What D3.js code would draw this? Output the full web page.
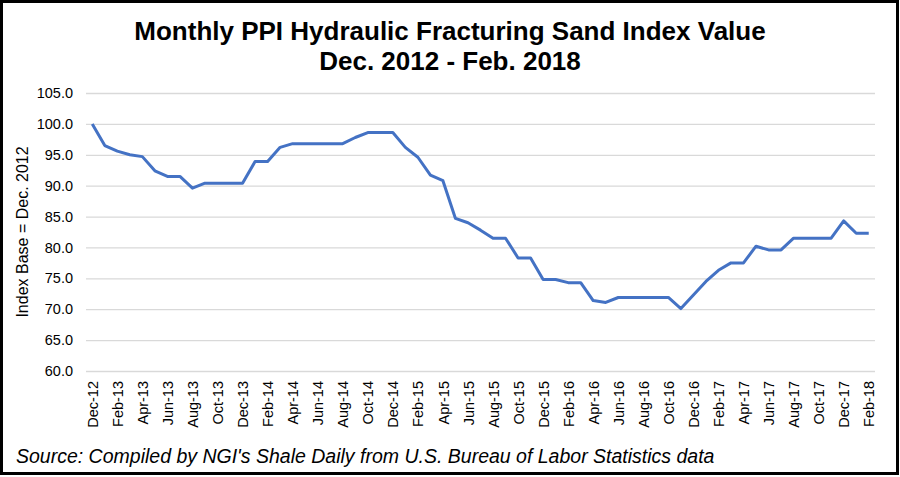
<!DOCTYPE html>
<html><head><meta charset="utf-8">
<script src="https://cdn.jsdelivr.net/npm/d3@7"></script>
<style>html,body{margin:0;padding:0;background:#fff}svg{display:block}</style>
</head><body>
<svg id="c" width="900" height="477"></svg>
<script>
const months = ["Dec-12","Jan-13","Feb-13","Mar-13","Apr-13","May-13","Jun-13","Jul-13","Aug-13","Sep-13","Oct-13","Nov-13",
"Dec-13","Jan-14","Feb-14","Mar-14","Apr-14","May-14","Jun-14","Jul-14","Aug-14","Sep-14","Oct-14","Nov-14",
"Dec-14","Jan-15","Feb-15","Mar-15","Apr-15","May-15","Jun-15","Jul-15","Aug-15","Sep-15","Oct-15","Nov-15",
"Dec-15","Jan-16","Feb-16","Mar-16","Apr-16","May-16","Jun-16","Jul-16","Aug-16","Sep-16","Oct-16","Nov-16",
"Dec-16","Jan-17","Feb-17","Mar-17","Apr-17","May-17","Jun-17","Jul-17","Aug-17","Sep-17","Oct-17","Nov-17",
"Dec-17","Jan-18","Feb-18"];
const values = [100.0,96.5,95.6,95.0,94.7,92.4,91.5,91.5,89.6,90.4,90.4,90.4,
90.4,93.9,93.9,96.2,96.8,96.8,96.8,96.8,96.8,97.8,98.6,98.6,
98.6,96.2,94.6,91.7,90.8,84.7,84.0,82.8,81.5,81.5,78.3,78.3,
74.8,74.8,74.3,74.3,71.4,71.1,71.9,71.9,71.9,71.9,71.9,70.1,
72.3,74.5,76.3,77.5,77.5,80.2,79.6,79.6,81.5,81.5,81.5,81.5,
84.3,82.3,82.3];
const yTicks = [60,65,70,75,80,85,90,95,100,105];
const titleLines = ["Monthly PPI Hydraulic Fracturing Sand Index Value","Dec. 2012 - Feb. 2018"];
const yTitle = "Index Base = Dec. 2012";
const source = "Source: Compiled by NGI's Shale Daily from U.S. Bureau of Labor Statistics data";

const svg = d3.select("#c");
const font = "'Liberation Sans', Arial, sans-serif";
const L = 86, R = 875, T = 93, B = 371;

svg.append("rect").attr("x",1.5).attr("y",1.5).attr("width",896).attr("height",472)
  .attr("fill","#fff").attr("stroke","#000").attr("stroke-width",3);

svg.selectAll("text.title").data(titleLines).join("text").attr("class","title")
  .attr("x",450).attr("y",(d,i)=>40+i*29.5).attr("text-anchor","middle")
  .attr("font-family",font).attr("font-weight","bold").attr("font-size",26).attr("fill","#000")
  .text(d=>d);

const x = d3.scalePoint().domain(months).range([L,R]).padding(0.5);
const y = d3.scaleLinear().domain([60,105]).range([B,T]);

const gy = svg.append("g").attr("transform",`translate(${L},0)`)
  .call(d3.axisLeft(y).tickValues(yTicks).tickFormat(d3.format(".1f")).tickSize(-(R-L)).tickPadding(13));
gy.select(".domain").remove();
gy.selectAll(".tick line").attr("stroke","#d9d9d9").attr("stroke-width",1.3);
gy.selectAll(".tick text").attr("font-family",font).attr("font-size",14.5).attr("fill","#000");

const xTickVals = months.filter((d,i)=>i%2===0);
const gx = svg.append("g").attr("transform",`translate(0,${B})`)
  .call(d3.axisBottom(x).tickValues(xTickVals).tickSize(0).tickPadding(0));
gx.select(".domain").remove();
gx.selectAll(".tick text").attr("font-family",font).attr("font-size",14.5).attr("fill","#000")
  .attr("transform","rotate(-90)").attr("text-anchor","end").attr("dx","-10").attr("dy","0.35em").attr("y",0).attr("x",0);

svg.append("text").attr("transform","translate(28,232) rotate(-90)").attr("text-anchor","middle")
  .attr("font-family",font).attr("font-size",16).attr("fill","#000").text(yTitle);

svg.append("path").datum(values)
  .attr("fill","none").attr("stroke","#4472C4").attr("stroke-width",3).attr("stroke-linejoin","round")
  .attr("d",d3.line().x((d,i)=>x(months[i])).y(d=>y(d)));

svg.append("text").attr("x",16).attr("y",463).attr("font-family",font).attr("font-style","italic")
  .attr("font-size",19.5).attr("fill","#000").text(source);
</script>
</body></html>
